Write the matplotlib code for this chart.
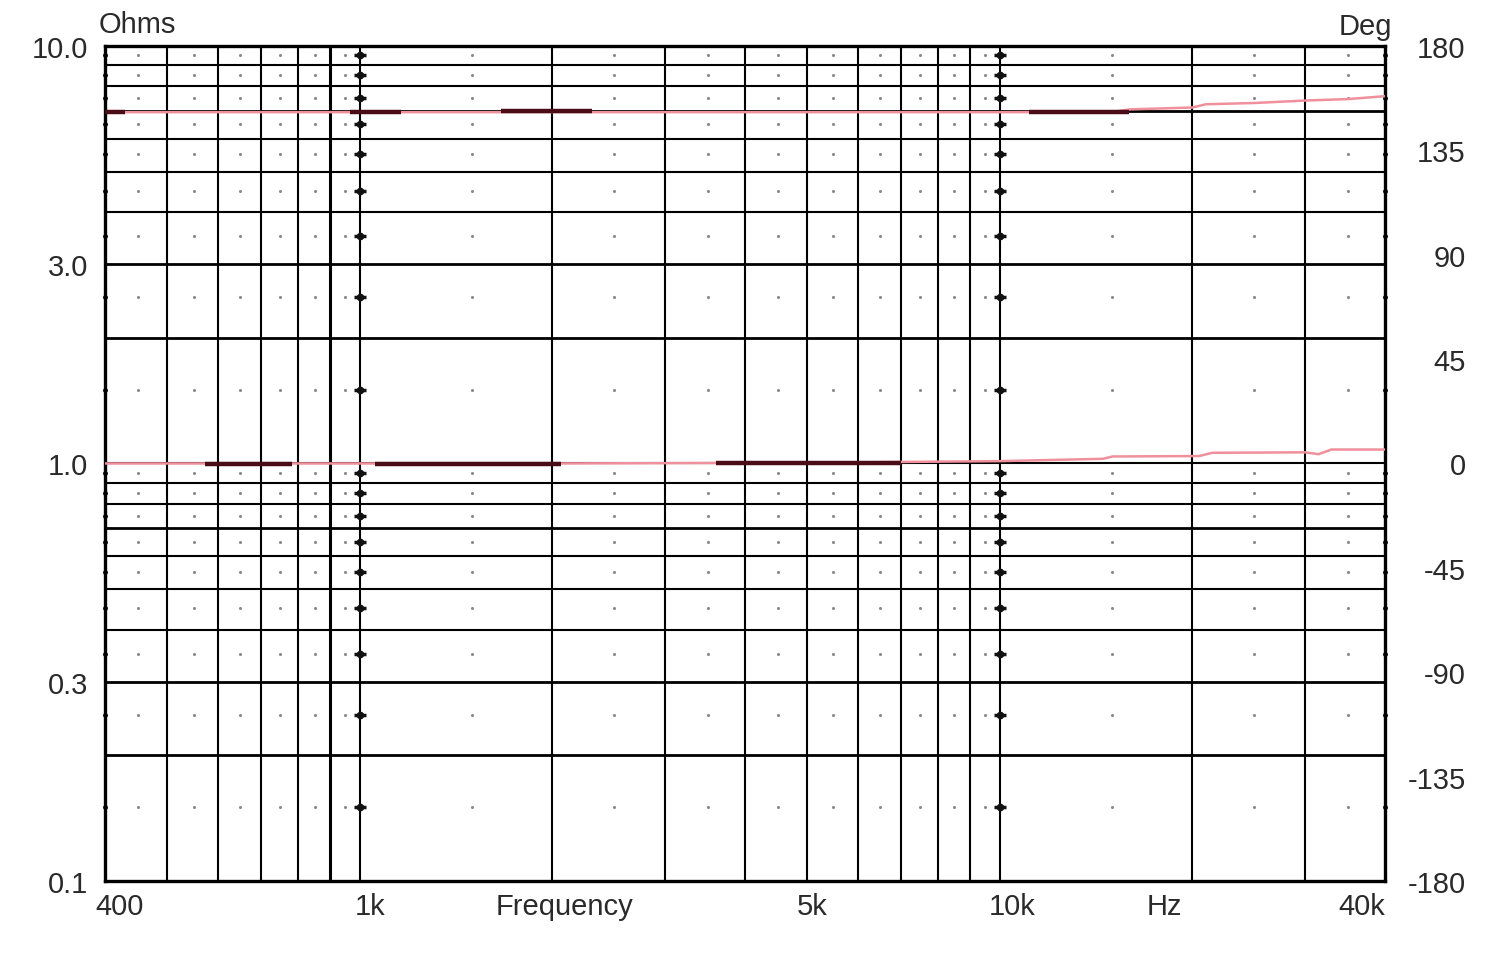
import matplotlib.pyplot as plt
import numpy as np

plt.rcParams['font.family'] = ['Liberation Sans', 'DejaVu Sans']

# impedance trace (Ohms, left log axis)
freq_z = [400, 1000, 5000, 10000, 15000, 16000, 20000, 21000, 25000, 30000, 35000, 40000]
ohms = [6.94, 6.94, 6.94, 6.94, 6.95, 7.05, 7.12, 7.25, 7.30, 7.40, 7.46, 7.58]

# phase trace (Deg, right axis)
freq_p = [400, 2000, 5000, 10000, 14500, 15000, 20500, 21500, 30000, 31500, 33000, 40000]
deg = [0.0, 0.0, 0.3, 1.0, 2.0, 3.0, 3.2, 4.6, 4.8, 4.0, 6.0, 6.0]

# darker overlay pieces of the traces
dark_z_f = [(400, 430), (965, 1160), (1660, 2310), (11100, 15900)]
dark_z_v = [6.94, 6.94, 6.97, 6.95]
dark_p_f = [(573, 784), (1056, 2060), (3600, 7000)]
dark_p_v = [-0.2, -0.2, 0.0]

# grid
grid_f = [500, 600, 700, 800, 900, 1000, 2000, 3000, 4000, 5000, 6000, 7000, 8000, 9000, 10000, 20000, 30000]
grid_o = [9, 8, 7, 6, 5, 4, 3, 2, 1, 0.9, 0.8, 0.7, 0.6, 0.5, 0.4, 0.3, 0.2]
thick_o = [7, 3, 2, 0.7, 0.3, 0.2]
mid_f = [450, 550, 650, 750, 850, 950, 1500, 2500, 3500, 4500, 5500, 6500, 7500, 8500, 9500,
         15000, 25000, 35000]
mid_o = [9.5, 8.5, 7.5, 6.5, 5.5, 4.5, 3.5, 2.5, 1.5, 0.95, 0.85, 0.75, 0.65, 0.55, 0.45,
         0.35, 0.25, 0.15]

y_ticks = [10, 3, 1, 0.3, 0.1]
y_labels = ['10.0', '3.0', '1.0', '0.3', '0.1']
x_labels = [(400, '400', 15), (1000, '1k', 10), (5000, '5k', 5), (10000, '10k', 12), (40000, '40k', -23)]
deg_ticks = [-180, -135, -90, -45, 0, 45, 90, 135, 180]

txt = '#2a2a2a'
fs = 21

fig = plt.figure(figsize=(15, 9.62), dpi=100)
ax = fig.add_axes([0.07, 0.0832, 0.8533, 0.868])
ax.set_xscale('log')
ax.set_yscale('log')
ax.set_xlim(400, 40000)
ax.set_ylim(0.1, 10)

for f in grid_f:
    lw = 2.2 if f == 900 else 1.5
    ax.axvline(f, color='black', lw=lw, zorder=1)
for o in grid_o:
    lw = 2.0 if o in thick_o else 1.5
    ax.axhline(o, color='black', lw=lw, zorder=1)

mx, my = np.meshgrid(mid_f, mid_o)
ax.scatter(mx.ravel(), my.ravel(), s=5, color='#8a8a8a', lw=0, zorder=2)
# bigger, flattened dots on the 1k and 10k lines
for f in [1000, 10000]:
    ax.plot([f] * len(mid_o), mid_o, ls='none', marker='o', ms=5.5, mew=0,
            color='#111111', zorder=2)
    ax.plot([f] * len(mid_o), mid_o, ls='none', marker='_', ms=9, mew=2.5,
            color='#111111', zorder=2)
for f in [400, 40000]:
    ax.scatter([f] * len(mid_o), mid_o, s=12, color='black', lw=0, zorder=2, clip_on=False)

ax.plot(freq_z, ohms, color='#f0909c', lw=1.8, zorder=4)
for (f0, f1), v in zip(dark_z_f, dark_z_v):
    ax.plot([f0, f1], [v, v], color='#4a0d18', lw=3.2, zorder=5, solid_capstyle='butt')

for s in ax.spines.values():
    s.set_linewidth(2.4)
    s.set_color('black')

ax.minorticks_off()
ax.set_yticks(y_ticks)
ax.set_yticklabels(y_labels)
ax.set_xticks([])
ax.tick_params(axis='y', which='both', length=0, pad=12, labelsize=fs, labelcolor=txt)
ax.tick_params(axis='x', which='both', length=0)

for f, lab, dx in x_labels:
    ax.annotate(lab, xy=(f, 0), xycoords=('data', 'axes fraction'), xytext=(dx, -25),
                textcoords='offset pixels', ha='center', va='center', fontsize=fs, color=txt)
ax.text(0.359, -0.03, 'Frequency', transform=ax.transAxes, ha='center', va='center', fontsize=fs, color=txt)
ax.text(0.828, -0.03, 'Hz', transform=ax.transAxes, ha='center', va='center', fontsize=fs, color=txt)
ax.text(0.025, 1.026, 'Ohms', transform=ax.transAxes, ha='center', va='center', fontsize=fs, color=txt)
ax.text(0.985, 1.024, 'Deg', transform=ax.transAxes, ha='center', va='center', fontsize=fs, color=txt)

ax2 = ax.twinx()
ax2.set_ylim(-180, 180)
ax2.plot(freq_p, deg, color='#f0909c', lw=1.8, zorder=4)
for (f0, f1), v in zip(dark_p_f, dark_p_v):
    ax2.plot([f0, f1], [v, v], color='#4a0d18', lw=3.2, zorder=5, solid_capstyle='butt')
ax2.set_yticks(deg_ticks)
ax2.set_yticklabels([str(d) for d in deg_ticks])
ax2.tick_params(axis='y', length=0, pad=58, labelsize=fs, labelcolor=txt)
for t in ax2.get_yticklabels():
    t.set_horizontalalignment('right')
for s in ax2.spines.values():
    s.set_visible(False)

fig.savefig('out.png', dpi=100, facecolor='white')
